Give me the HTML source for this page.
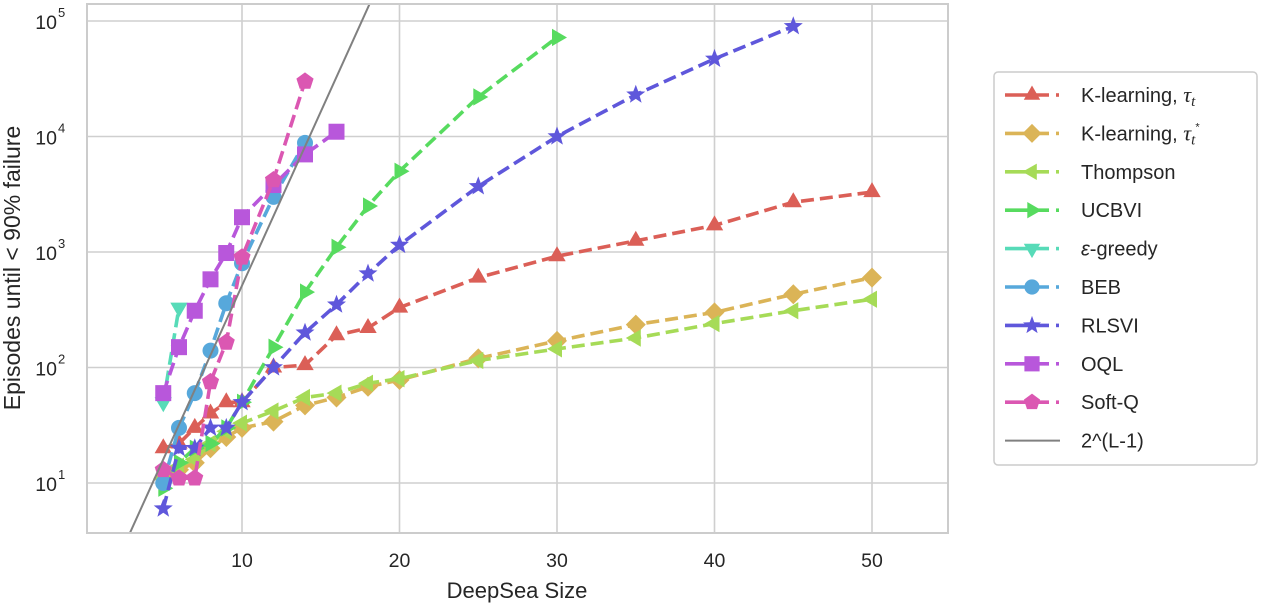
<!DOCTYPE html>
<html><head><meta charset="utf-8"><style>
html,body{margin:0;padding:0;background:#fff;}
svg{display:block;font-family:"Liberation Sans",Arial,sans-serif;}
</style></head><body>
<svg id="chart" width="1268" height="605" viewBox="0 0 1268 605"></svg>
<script>
const xTicks = [10, 20, 30, 40, 50];
const yTickExp = [1, 2, 3, 4, 5];
const seriesNames = ["K-learning, τt", "K-learning, τt*", "Thompson", "UCBVI", "ε-greedy", "BEB", "RLSVI", "OQL", "Soft-Q"];
const kltX = [5,6,7,8,9,10,12,14,16,18,20,25,30,35,40,45,50];
const kltY = [20,22,30,40,50,50,100,105,190,220,330,600,920,1250,1700,2700,3300];
const klsX = [5,6,7,8,9,10,12,14,16,18,20,25,30,35,40,45,50];
const klsY = [11,13,15,20,25,30,34,47,55,68,78,120,170,235,300,430,600];
const thX = [5,6,7,8,9,10,12,14,16,18,20,25,30,35,40,45,50];
const thY = [11,14,16,22,28,33,42,55,60,73,80,115,145,180,240,310,390];
const ucX = [5,6,7,8,9,10,12,14,16,18,20,25,30];
const ucY = [9,15,20,22,30,50,150,450,1100,2500,5000,22000,72000];
const egX = [5,6];
const egY = [50,330];
const bebX = [5,6,7,8,9,10,12,14];
const bebY = [10,30,60,140,360,800,3000,8800];
const rlX = [5,6,7,8,9,10,12,14,16,18,20,25,30,35,40,45];
const rlY = [6,20,20,30,30,50,100,200,350,650,1150,3700,10000,23000,47000,90000];
const oqX = [5,6,7,8,9,10,12,14,16];
const oqY = [60,150,310,580,980,2000,3800,7000,11000];
const sqX = [5,6,7,8,9,10,12,14];
const sqY = [13,11,11,75,165,900,4200,30000];
const refL = [2.7, 18.5];

const NS="http://www.w3.org/2000/svg";
const svg=document.getElementById('chart');
const L=87,R=948,T=4,B=533;
function xs(v){return 84.5+15.75*v;}
function ys(v){return 483-115.5*(Math.log10(v)-1);}
function mk(tag,attrs,parent){const e=document.createElementNS(NS,tag);for(const k in attrs)e.setAttribute(k,attrs[k]);(parent||svg).appendChild(e);return e;}

const clip=mk('clipPath',{id:'pc'});mk('rect',{x:L,y:T,width:R-L,height:B-T},clip);

const grid=mk('g',{});


xTicks.forEach(t=>{const l=mk('line',{x1:xs(t),x2:xs(t),y1:T,y2:B,stroke:'#cfcfcf','stroke-width':1.6},grid);


const tx=mk('text',{x:xs(t),y:567,'font-size':19.5,'text-anchor':'middle',fill:'#262626'});tx.textContent=t;

});
yTickExp.forEach(e=>{const y=ys(Math.pow(10,e));const l=mk('line',{x1:L,x2:R,y1:y,y2:y,stroke:'#cfcfcf','stroke-width':1.6},grid);


const tx=mk('text',{x:57,y:y+8,'font-size':19.5,'text-anchor':'end',fill:'#262626'});tx.textContent='10';


const sp=mk('text',{x:58,y:y-4,'font-size':13,fill:'#262626'});sp.textContent=e;

});

const colors=['#db5f57','#dbb457','#a6db57','#57db5f','#57dbb8','#57a8db','#5f57db','#b857db','#db57b2'];
const markers=['^','D','<','>','v','o','*','s','p'];
const data=[[kltX,kltY],[klsX,klsY],[thX,thY],[ucX,ucY],[egX,egY],[bebX,bebY],[rlX,rlY],[oqX,oqY],[sqX,sqY]];
const keys=['klt','kls','thompson','ucbvi','egreedy','beb','rlsvi','oql','softq'];

function poly(cx,cy,pts){return pts.map(p=>(cx+p[0]).toFixed(1)+','+(cy+p[1]).toFixed(1)).join(' ');}
function regular(n,r,rot){const a=[];for(let i=0;i<n;i++){const t=rot+i*2*Math.PI/n;a.push([r*Math.cos(t),r*Math.sin(t)]);}return a;}
function star(r){const a=[];for(let i=0;i<10;i++){const rr=i%2?r*0.42:r;const t=-Math.PI/2+i*Math.PI/5;a.push([rr*Math.cos(t),rr*Math.sin(t)]);}return a;}
function drawMarker(m,cx,cy,c,g,s){s=s||1;let e;
 if(m==='o')e=mk('circle',{cx:cx,cy:cy,r:8*s,fill:c},g);
 else if(m==='s')e=mk('rect',{x:cx-8*s,y:cy-8*s,width:16*s,height:16*s,fill:c},g);
 else{let pts;
  if(m==='^')pts=regular(3,10*s,-Math.PI/2);
  else if(m==='v')pts=regular(3,10*s,Math.PI/2);
  else if(m==='<')pts=regular(3,10*s,Math.PI);
  else if(m==='>')pts=regular(3,10*s,0);
  else if(m==='D')pts=regular(4,10*s,0);
  else if(m==='p')pts=regular(5,9*s,-Math.PI/2);
  else if(m==='*')pts=star(10*s);
  e=mk('polygon',{points:poly(cx,cy,pts),fill:c},g);}
 return e;}

const plot=mk('g',{'clip-path':'url(#pc)'});


data.forEach((d,i)=>{const g=mk('g',{},plot);
 
 
 const pts=d[0].map((x,j)=>xs(x).toFixed(1)+','+ys(d[1][j]).toFixed(1)).join(' ');
 const pl=mk('polyline',{points:pts,fill:'none',stroke:colors[i],'stroke-width':3.6,'stroke-dasharray':'13,6'},g);
 
 
 d[0].forEach((x,j)=>{const e=drawMarker(markers[i],xs(x),ys(d[1][j]),colors[i],g);
  
  });
});
const ref=mk('line',{x1:xs(refL[0]),y1:ys(Math.pow(2,refL[0]-1)),x2:xs(refL[1]),y2:ys(Math.pow(2,refL[1]-1)),stroke:'#808080','stroke-width':2},plot);



const fr=mk('rect',{x:L,y:T,width:R-L,height:B-T,fill:'none',stroke:'#cccccc','stroke-width':2});



const xl=mk('text',{x:517,y:598,'font-size':22,'text-anchor':'middle',fill:'#262626'});xl.textContent='DeepSea Size';


const yl=mk('text',{x:0,y:0,'font-size':23,'text-anchor':'middle',fill:'#262626',transform:'translate(20,268) rotate(-90)','xml:space':'preserve'});yl.textContent='Episodes until  < 90% failure';



const lg=mk('g',{});


const lb=mk('rect',{x:994,y:72,width:263,height:393,rx:4,fill:'#fff',stroke:'#cccccc','stroke-width':1.5},lg);


for(let i=0;i<10;i++){const y=95+i*38.4;const e=mk('g',{},lg);
 
 
 if(i<9){mk('line',{x1:1005,x2:1049,y1:y,y2:y,stroke:colors[i],'stroke-width':3.6},e);
  mk('line',{x1:1056,x2:1059,y1:y,y2:y,stroke:colors[i],'stroke-width':3.6},e);
  drawMarker(markers[i],1032,y,colors[i],e,0.95);}
 else mk('line',{x1:1005,x2:1060,y1:y,y2:y,stroke:'#808080','stroke-width':2},e);
 const t=mk('text',{x:1081,y:y+7,'font-size':20,fill:'#262626'},e);
 if(i===0){t.innerHTML='K-learning, <tspan font-style="italic" font-family="Liberation Serif" font-size="22">τ</tspan><tspan font-style="italic" font-family="Liberation Serif" font-size="15" dy="4">t</tspan>';}
 else if(i===1){t.innerHTML='K-learning, <tspan font-style="italic" font-family="Liberation Serif" font-size="22">τ</tspan><tspan font-style="italic" font-family="Liberation Serif" font-size="15" dy="4">t</tspan><tspan font-size="11" dy="-14">*</tspan>';}
 else if(i===4){t.innerHTML='<tspan font-style="italic">ε</tspan>-greedy';}
 else t.textContent=i===9?'2^(L-1)':seriesNames[i];
}
</script>
</body></html>
